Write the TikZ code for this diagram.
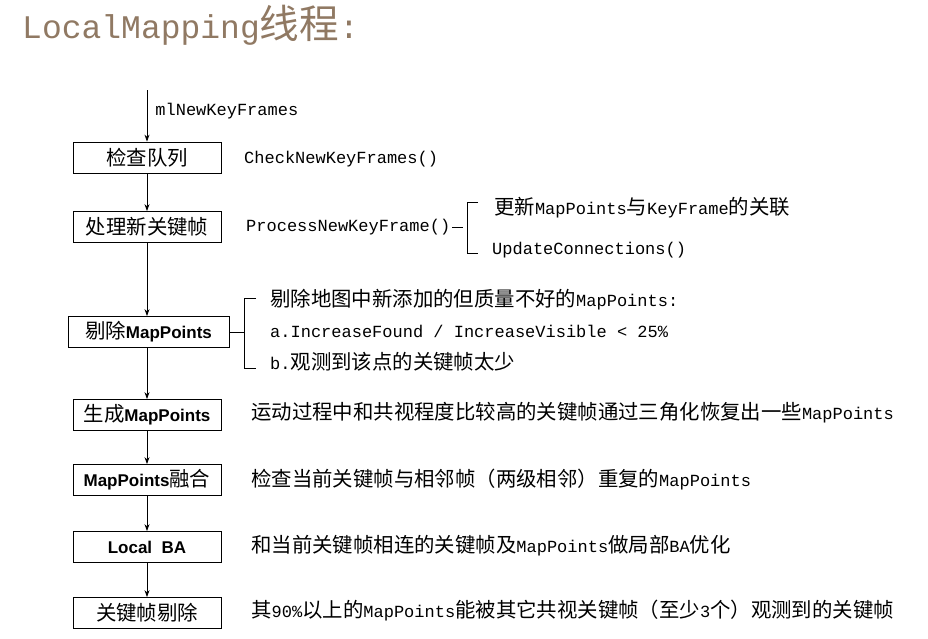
\documentclass[tikz,border=0pt]{standalone}
\usepackage{fontspec}
\usetikzlibrary{arrows.meta}
\setmainfont{Liberation Mono}
\newfontfamily\cjk[Scale=1.2]{Noto Sans CJK SC}
\newfontfamily\bsans{Liberation Sans}
\begin{document}
\begin{tikzpicture}[x=1pt,y=-1pt,
  box/.style={draw,thick,minimum width=148pt,minimum height=31pt,inner sep=0pt,font=\fontsize{17}{20}\selectfont},
  lbl/.style={anchor=west,inner sep=0pt,font=\fontsize{17}{20}\selectfont},
  arr/.style={-{Stealth[length=7pt,width=5pt]},line width=0.8pt},
  br/.style={line width=0.9pt}]
\useasboundingbox (0,0) rectangle (928,638);
\node[anchor=west,inner sep=0pt,text=brown!50!black!70,font=\fontsize{33}{36}\selectfont] (title) at (22,25) {LocalMapping{\cjk 线程}:};
\coordinate (top) at (147,90);
\node[box] (b1) at (147,157.5) {\cjk 检查队列};
\node[box] (b2) at (147,227) {\cjk 处理新关键帧};
\node[box,minimum width=161pt] (b3) at (148.5,332) {{\cjk 剔除}\bsans\bfseries MapPoints};
\node[box] (b4) at (147,415) {{\cjk 生成}\bsans\bfseries MapPoints};
\node[box] (b5) at (147,480) {{\bsans\bfseries MapPoints}\cjk 融合};
\node[box] (b6) at (147,547) {\bsans\bfseries Local\ \ BA};
\node[box] (b7) at (147,613) {\cjk 关键帧剔除};
\draw[arr] (top) -- node[lbl,right=8pt,pos=0.4]{mlNewKeyFrames} (b1);
\draw[arr] (b1) -- (b2);
\draw[arr] (b2.south) -- (b2.south |- b3.north);
\draw[arr] (b4.north |- b3.south) -- (b4.north);
\draw[arr] (b4) -- (b5);
\draw[arr] (b5) -- (b6);
\draw[arr] (b6) -- (b7);
\node[lbl] (t1) at (244,159) {CheckNewKeyFrames()};
\node[lbl] (t2) at (246,227) {ProcessNewKeyFrame()};
\node[lbl] (t21) at (494,208) {{\cjk 更新}MapPoints{\cjk 与}KeyFrame{\cjk 的关联}};
\node[lbl] (t22) at (492,250) {UpdateConnections()};
\draw[br] (t2.east) ++(2,0) -- ++(11,0) coordinate (m1);
\draw[br] (478,202) -- (467,202) -- (467,253) -- (478,253);
\draw[br] (b3.east) -- (244,332);
\draw[br] (256,298) -- (244,298) -- (244,368) -- (256,368);
\node[lbl] (t31) at (270,300) {{\cjk 剔除地图中新添加的但质量不好的}MapPoints:};
\node[lbl] (t32) at (270,331) {a.IncreaseFound / IncreaseVisible < 25\%};
\node[lbl] (t33) at (270,362) {b.{\cjk 观测到该点的关键帧太少}};
\node[lbl] (t4) at (251,413) {{\cjk 运动过程中和共视程度比较高的关键帧通过三角化恢复出一些}MapPoints};
\node[lbl] (t5) at (251,480) {{\cjk 检查当前关键帧与相邻帧（两级相邻）重复的}MapPoints};
\node[lbl] (t6) at (251,546) {{\cjk 和当前关键帧相连的关键帧及}MapPoints{\cjk 做局部}BA{\cjk 优化}};
\node[lbl] (t7) at (251,611) {{\cjk 其}90\%{\cjk 以上的}MapPoints{\cjk 能被其它共视关键帧（至少}3{\cjk 个）观测到的关键帧}};
\end{tikzpicture}
\end{document}
